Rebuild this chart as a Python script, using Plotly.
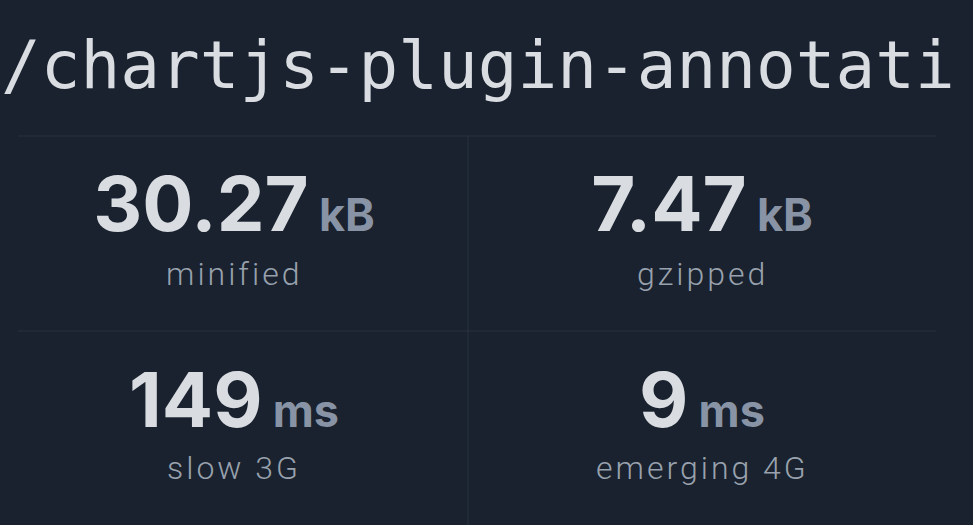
import plotly.graph_objects as go

# bundle stats card
package_name = "/chartjs-plugin-annotati"
stat_values = ["30.27", "7.47", "149", "9"]
stat_units = ["kB", "kB", "ms", "ms"]
stat_labels = ["minified", "gzipped", "slow 3G", "emerging 4G"]
stat_cols = [0, 1, 0, 1]
stat_rows = [0, 0, 1, 1]

BG = "#19222e"
GRID = "#29323f"
TXT = "#d9dce1"
UNIT = "#8894a6"
LABEL = "#98a1ad"

fig = go.Figure()

# numbers with units
fig.add_trace(go.Scatter(
    x=stat_cols,
    y=stat_rows,
    mode="text",
    text=[f"<b>{v}</b><span style='font-size:36px'> </span>"
          f"<span style='font-size:45px;color:{UNIT}'><b>{u}</b></span>"
          for v, u in zip(stat_values, stat_units)],
    textposition="middle center",
    textfont=dict(family="Inter", size=76, color=TXT),
    hoverinfo="skip",
    showlegend=False,
))

# labels under numbers
for c, r, lab in zip(stat_cols, stat_rows, stat_labels):
    fig.add_annotation(
        x=c, y=r, xref="x", yref="y", showarrow=False,
        text=f"<span style='letter-spacing:3px'>{lab}</span>",
        yshift=-62 if r == 0 else -60,
        font=dict(family="Roboto", size=32, color=LABEL, weight=300),
    )

# title
fig.add_annotation(
    x=0, y=1, xref="paper", yref="paper", xanchor="left", yanchor="top",
    text=package_name, showarrow=False, xshift=-1, yshift=-25,
    font=dict(family="DejaVu Sans Mono", size=66, color=TXT),
)

# grid lines
fig.add_shape(type="line", xref="paper", yref="paper",
              x0=18 / 973, x1=936 / 973, y0=1 - 136 / 525, y1=1 - 136 / 525,
              line=dict(color=GRID, width=1))
fig.add_shape(type="line", xref="paper", yref="paper",
              x0=18 / 973, x1=936 / 973, y0=1 - 331 / 525, y1=1 - 331 / 525,
              line=dict(color=GRID, width=1))
fig.add_shape(type="line", xref="paper", yref="paper",
              x0=468 / 973, x1=468 / 973, y0=0, y1=1 - 136 / 525,
              line=dict(color=GRID, width=1))

fig.update_layout(
    width=973, height=525,
    margin=dict(l=0, r=0, t=0, b=0),
    paper_bgcolor=BG, plot_bgcolor=BG,
    xaxis=dict(range=[-0.5, -0.5 + 973 / 468], visible=False, fixedrange=True),
    yaxis=dict(range=[-212 / 196 + 525 / 196, -212 / 196], visible=False, fixedrange=True),
)

fig.write_html(
    "out.html",
    config={"displayModeBar": False},
    post_script="document.body.style.margin='0';document.body.style.background='#19222e';",
)
